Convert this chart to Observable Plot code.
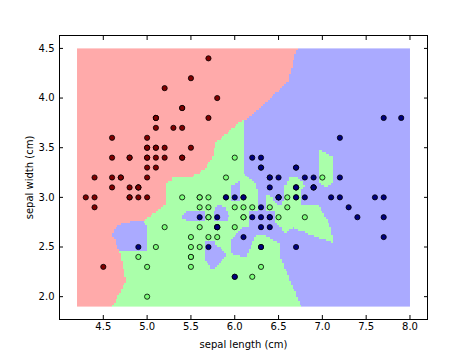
<!DOCTYPE html>
<html><head><meta charset="utf-8">
<script src="https://cdn.jsdelivr.net/npm/d3@7"></script>
<script src="https://cdn.jsdelivr.net/npm/@observablehq/plot@0.6"></script>
<style>html,body{margin:0;padding:0;background:#fff}svg{display:block}</style>
</head><body><div id="chart"></div>
<script>
// Iris sepal measurements (sepal length, sepal width) by species
const setosaLength = [5.1,4.9,4.7,4.6,5.0,5.4,4.6,5.0,4.4,4.9,5.4,4.8,4.8,4.3,5.8,5.7,5.4,5.1,5.7,5.1,5.4,5.1,4.6,5.1,4.8,5.0,5.0,5.2,5.2,4.7,4.8,5.4,5.2,5.5,4.9,5.0,5.5,4.9,4.4,5.1,5.0,4.5,4.4,5.0,5.1,4.8,5.1,4.6,5.3,5.0];
const setosaWidth  = [3.5,3.0,3.2,3.1,3.6,3.9,3.4,3.4,2.9,3.1,3.7,3.4,3.0,3.0,4.0,4.4,3.9,3.5,3.8,3.8,3.4,3.7,3.6,3.3,3.4,3.0,3.4,3.5,3.4,3.2,3.1,3.4,4.1,4.2,3.1,3.2,3.5,3.1,3.0,3.4,3.5,2.3,3.2,3.5,3.8,3.0,3.8,3.2,3.7,3.3];
const versicolorLength = [7.0,6.4,6.9,5.5,6.5,5.7,6.3,4.9,6.6,5.2,5.0,5.9,6.0,6.1,5.6,6.7,5.6,5.8,6.2,5.6,5.9,6.1,6.3,6.1,6.4,6.6,6.8,6.7,6.0,5.7,5.5,5.5,5.8,6.0,5.4,6.0,6.7,6.3,5.6,5.5,5.5,6.1,5.8,5.0,5.6,5.7,5.7,6.2,5.1,5.7];
const versicolorWidth  = [3.2,3.2,3.1,2.3,2.8,2.8,3.3,2.4,2.9,2.7,2.0,3.0,2.2,2.9,2.9,3.1,3.0,2.7,2.2,2.5,3.2,2.8,2.5,2.8,2.9,3.0,2.8,3.0,2.9,2.6,2.4,2.4,2.7,2.7,3.0,3.4,3.1,2.3,3.0,2.5,2.6,3.0,2.6,2.3,2.7,3.0,2.9,2.9,2.5,2.8];
const virginicaLength = [6.3,5.8,7.1,6.3,6.5,7.6,4.9,7.3,6.7,7.2,6.5,6.4,6.8,5.7,5.8,6.4,6.5,7.7,7.7,6.0,6.9,5.6,7.7,6.3,6.7,7.2,6.2,6.1,6.4,7.2,7.4,7.9,6.4,6.3,6.1,7.7,6.3,6.4,6.0,6.9,6.7,6.9,5.8,6.8,6.7,6.7,6.3,6.5,6.2,5.9];
const virginicaWidth  = [3.3,2.7,3.0,2.9,3.0,3.0,2.5,2.9,2.5,3.6,3.2,2.7,3.0,2.5,2.8,3.2,3.0,3.8,2.6,2.2,3.2,2.8,2.8,2.7,3.3,3.2,2.8,3.0,2.8,3.0,2.8,3.8,2.8,2.8,2.6,3.0,3.4,3.1,3.0,3.1,3.1,3.1,2.7,3.2,3.3,3.0,2.5,3.0,3.4,3.0];

const species = ["setosa", "versicolor", "virginica"];
const lightColors = ["#FFAAAA", "#AAFFAA", "#AAAAFF"];
const boldColors = ["#7F0000", "#7DFF7A", "#00007F"];

const xTicks = [4.5, 5.0, 5.5, 6.0, 6.5, 7.0, 7.5, 8.0];
const yTicks = [2.0, 2.5, 3.0, 3.5, 4.0, 4.5];
const xDomain = [4.0, 8.2];
const yDomain = [1.77, 4.63];

// nearest-neighbour classifier settings (decision surface on a mesh)
const nNeighbors = 1;
const meshStep = 0.02;
const meshX = [4.2, 8.0];
const meshY = [1.9, 4.5];
// duplicated samples of two species: the species whose region shows there in the picture
const tieLength = [6.9, 6.3, 6.4];
const tieWidth  = [3.1, 3.3, 3.2];
const tieWinner = [2, 2, 2];

const points = [];
[[setosaLength, setosaWidth], [versicolorLength, versicolorWidth], [virginicaLength, virginicaWidth]]
  .forEach(([L, W], c) => L.forEach((l, i) => points.push({x: l, y: W[i], c})));

function rank(p) {
  for (let t = 0; t < tieLength.length; t++)
    if (p.x === tieLength[t] && p.y === tieWidth[t]) return p.c === tieWinner[t] ? 0 : 1;
  return 0;
}
const train = points.map((p, i) => ({...p, i, r: rank(p)}));

function classify(px, py) {
  const d = train.map(p => ({dist: Math.hypot(p.x - px, p.y - py), c: p.c, i: p.i, r: p.r}));
  d.sort((a, b) => a.dist - b.dist || a.r - b.r || a.i - b.i);
  const near = d.slice(0, nNeighbors);
  const votes = [0, 0, 0];
  for (const n of near) votes[n.c] += 1;
  let best = 0;
  for (let c = 1; c < 3; c++) if (votes[c] > votes[best]) best = c;
  return best;
}

const nx = Math.round((meshX[1] - meshX[0]) / meshStep);
const ny = Math.round((meshY[1] - meshY[0]) / meshStep);
const cells = [];
for (let j = 0; j < ny; j++) {
  for (let i = 0; i < nx; i++) {
    const mx = meshX[0] + i * meshStep, my = meshY[0] + j * meshStep;
    cells.push({x: mx + meshStep / 2, y: my + meshStep / 2, c: classify(mx, my)});
  }
}

const chart = Plot.plot({
  width: 474,
  height: 355,
  marginLeft: 59,
  marginRight: 47,
  marginTop: 35,
  marginBottom: 36,
  style: {fontFamily: "DejaVu Sans, sans-serif", fontSize: "10px", background: "#fff", color: "#000"},
  x: {domain: xDomain},
  y: {domain: yDomain},
  color: {type: "identity"},
  marks: [
    Plot.raster(cells, {
      x: "x", y: "y", fill: d => lightColors[d.c],
      x1: meshX[0], x2: meshX[1], y1: meshY[0], y2: meshY[1],
      width: nx, height: ny, interpolate: "none", imageRendering: "pixelated"
    }),
    Plot.dot(points, {x: "x", y: "y", fill: d => boldColors[d.c], stroke: "#000", strokeWidth: 0.8, r: 2.6}),
    Plot.frame({stroke: "#000", strokeWidth: 1}),
    Plot.axisX(xTicks, {anchor: "bottom", tickSize: 0, tickPadding: 3, tickFormat: d3.format(".1f"),
      label: "sepal length (cm)", labelAnchor: "center", labelOffset: 28, labelArrow: "none"}),
    Plot.axisX(xTicks, {anchor: "bottom", tickSize: -4, fill: "none"}),
    Plot.axisX(xTicks, {anchor: "top", tickSize: -4, fill: "none"}),
    Plot.axisY(yTicks, {anchor: "left", tickSize: 0, tickPadding: 5, tickFormat: d3.format(".1f"),
      label: "sepal width (cm)", labelAnchor: "center", labelOffset: 34, labelArrow: "none"}),
    Plot.axisY(yTicks, {anchor: "left", tickSize: -4, fill: "none"}),
    Plot.axisY(yTicks, {anchor: "right", tickSize: -4, fill: "none"})
  ]
});
document.getElementById("chart").appendChild(chart);
</script>
</body></html>
